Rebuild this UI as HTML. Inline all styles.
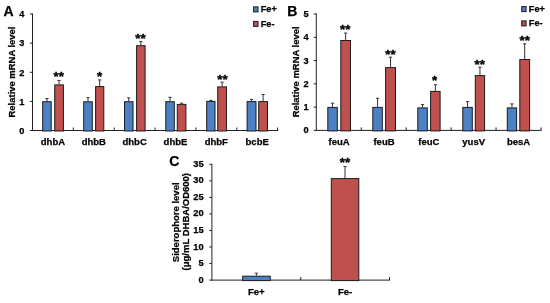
<!DOCTYPE html>
<html><head><meta charset="utf-8"><style>
html,body{margin:0;padding:0;background:#fff;}
svg{display:block;font-family:'Liberation Sans', Arial, sans-serif;}
text{fill:#000;stroke:#000;stroke-width:0.25px;}
</style></head><body>
<svg width="550" height="303" viewBox="0 0 550 303">
<rect width="550" height="303" fill="#fff"/>
<line x1="32.5" y1="13.5" x2="32.5" y2="131.0" stroke="#222" stroke-width="1"/>
<line x1="32.0" y1="130.5" x2="278.1" y2="130.5" stroke="#222" stroke-width="1"/>
<line x1="29.9" y1="130.5" x2="32.5" y2="130.5" stroke="#222" stroke-width="1"/>
<text x="24.3" y="133.75" font-size="9.2" font-weight="bold" text-anchor="end" >0</text>
<line x1="29.9" y1="101.375" x2="32.5" y2="101.375" stroke="#222" stroke-width="1"/>
<text x="24.3" y="104.625" font-size="9.2" font-weight="bold" text-anchor="end" >1</text>
<line x1="29.9" y1="72.25" x2="32.5" y2="72.25" stroke="#222" stroke-width="1"/>
<text x="24.3" y="75.5" font-size="9.2" font-weight="bold" text-anchor="end" >2</text>
<line x1="29.9" y1="43.125" x2="32.5" y2="43.125" stroke="#222" stroke-width="1"/>
<text x="24.3" y="46.375" font-size="9.2" font-weight="bold" text-anchor="end" >3</text>
<line x1="29.9" y1="14.0" x2="32.5" y2="14.0" stroke="#222" stroke-width="1"/>
<text x="24.3" y="17.25" font-size="9.2" font-weight="bold" text-anchor="end" >4</text>
<line x1="73.35" y1="127.5" x2="73.35" y2="130.5" stroke="#222" stroke-width="1"/>
<line x1="114.2" y1="127.5" x2="114.2" y2="130.5" stroke="#222" stroke-width="1"/>
<line x1="155.05" y1="127.5" x2="155.05" y2="130.5" stroke="#222" stroke-width="1"/>
<line x1="195.9" y1="127.5" x2="195.9" y2="130.5" stroke="#222" stroke-width="1"/>
<line x1="236.75" y1="127.5" x2="236.75" y2="130.5" stroke="#222" stroke-width="1"/>
<line x1="277.6" y1="127.5" x2="277.6" y2="130.5" stroke="#222" stroke-width="1"/>
<line x1="46.95" y1="101.2" x2="46.95" y2="98.5" stroke="#333" stroke-width="1"/>
<line x1="45.35" y1="98.5" x2="48.550000000000004" y2="98.5" stroke="#333" stroke-width="1"/>
<line x1="59.05" y1="84.4" x2="59.05" y2="80.4" stroke="#333" stroke-width="1"/>
<line x1="57.449999999999996" y1="80.4" x2="60.65" y2="80.4" stroke="#333" stroke-width="1"/>
<rect x="42.70" y="101.70" width="8.50" height="29.30" fill="#4D81C6" stroke="#1c1c1c" stroke-width="1"/>
<rect x="54.70" y="84.90" width="8.70" height="46.10" fill="#C0504D" stroke="#1c1c1c" stroke-width="1"/>
<line x1="88.0" y1="101.3" x2="88.0" y2="97.7" stroke="#333" stroke-width="1"/>
<line x1="86.4" y1="97.7" x2="89.6" y2="97.7" stroke="#333" stroke-width="1"/>
<line x1="99.69999999999999" y1="86.1" x2="99.69999999999999" y2="79.9" stroke="#333" stroke-width="1"/>
<line x1="98.1" y1="79.9" x2="101.29999999999998" y2="79.9" stroke="#333" stroke-width="1"/>
<rect x="83.70" y="101.80" width="8.60" height="29.20" fill="#4D81C6" stroke="#1c1c1c" stroke-width="1"/>
<rect x="95.60" y="86.60" width="8.20" height="44.40" fill="#C0504D" stroke="#1c1c1c" stroke-width="1"/>
<line x1="128.75" y1="101.2" x2="128.75" y2="97.9" stroke="#333" stroke-width="1"/>
<line x1="127.15" y1="97.9" x2="130.35" y2="97.9" stroke="#333" stroke-width="1"/>
<line x1="140.85" y1="45.2" x2="140.85" y2="41.6" stroke="#333" stroke-width="1"/>
<line x1="139.25" y1="41.6" x2="142.45" y2="41.6" stroke="#333" stroke-width="1"/>
<rect x="124.50" y="101.70" width="8.50" height="29.30" fill="#4D81C6" stroke="#1c1c1c" stroke-width="1"/>
<rect x="136.60" y="45.70" width="8.50" height="85.30" fill="#C0504D" stroke="#1c1c1c" stroke-width="1"/>
<line x1="170.05" y1="101.2" x2="170.05" y2="97.3" stroke="#333" stroke-width="1"/>
<line x1="168.45000000000002" y1="97.3" x2="171.65" y2="97.3" stroke="#333" stroke-width="1"/>
<line x1="181.60000000000002" y1="103.9" x2="181.60000000000002" y2="103.2" stroke="#333" stroke-width="1"/>
<line x1="180.00000000000003" y1="103.2" x2="183.20000000000002" y2="103.2" stroke="#333" stroke-width="1"/>
<rect x="165.80" y="101.70" width="8.50" height="29.30" fill="#4D81C6" stroke="#1c1c1c" stroke-width="1"/>
<rect x="177.30" y="104.40" width="8.60" height="26.60" fill="#C0504D" stroke="#1c1c1c" stroke-width="1"/>
<line x1="210.85" y1="100.9" x2="210.85" y2="100.4" stroke="#333" stroke-width="1"/>
<line x1="209.25" y1="100.4" x2="212.45" y2="100.4" stroke="#333" stroke-width="1"/>
<line x1="222.1" y1="86.4" x2="222.1" y2="82.2" stroke="#333" stroke-width="1"/>
<line x1="220.5" y1="82.2" x2="223.7" y2="82.2" stroke="#333" stroke-width="1"/>
<rect x="206.70" y="101.40" width="8.30" height="29.60" fill="#4D81C6" stroke="#1c1c1c" stroke-width="1"/>
<rect x="217.70" y="86.90" width="8.80" height="44.10" fill="#C0504D" stroke="#1c1c1c" stroke-width="1"/>
<line x1="251.55" y1="101.1" x2="251.55" y2="99.4" stroke="#333" stroke-width="1"/>
<line x1="249.95000000000002" y1="99.4" x2="253.15" y2="99.4" stroke="#333" stroke-width="1"/>
<line x1="263.1" y1="101.1" x2="263.1" y2="94.5" stroke="#333" stroke-width="1"/>
<line x1="261.5" y1="94.5" x2="264.70000000000005" y2="94.5" stroke="#333" stroke-width="1"/>
<rect x="247.10" y="101.60" width="8.90" height="29.40" fill="#4D81C6" stroke="#1c1c1c" stroke-width="1"/>
<rect x="258.70" y="101.60" width="8.80" height="29.40" fill="#C0504D" stroke="#1c1c1c" stroke-width="1"/>
<text x="52.925" y="144.5" font-size="9.5" font-weight="bold" text-anchor="middle" >dhbA</text>
<text x="93.775" y="144.5" font-size="9.5" font-weight="bold" text-anchor="middle" >dhbB</text>
<text x="134.625" y="144.5" font-size="9.5" font-weight="bold" text-anchor="middle" >dhbC</text>
<text x="175.475" y="144.5" font-size="9.5" font-weight="bold" text-anchor="middle" >dhbE</text>
<text x="216.32500000000002" y="144.5" font-size="9.5" font-weight="bold" text-anchor="middle" >dhbF</text>
<text x="257.175" y="144.5" font-size="9.5" font-weight="bold" text-anchor="middle" >bcbE</text>
<line x1="316.3" y1="13.5" x2="316.3" y2="130.9" stroke="#222" stroke-width="1"/>
<line x1="315.8" y1="130.4" x2="541.5" y2="130.4" stroke="#222" stroke-width="1"/>
<line x1="313.7" y1="130.4" x2="316.3" y2="130.4" stroke="#222" stroke-width="1"/>
<text x="308.6" y="133.45000000000002" font-size="9.2" font-weight="bold" text-anchor="end" >0</text>
<line x1="313.7" y1="107.12" x2="316.3" y2="107.12" stroke="#222" stroke-width="1"/>
<text x="308.6" y="110.17" font-size="9.2" font-weight="bold" text-anchor="end" >1</text>
<line x1="313.7" y1="83.84" x2="316.3" y2="83.84" stroke="#222" stroke-width="1"/>
<text x="308.6" y="86.89" font-size="9.2" font-weight="bold" text-anchor="end" >2</text>
<line x1="313.7" y1="60.56" x2="316.3" y2="60.56" stroke="#222" stroke-width="1"/>
<text x="308.6" y="63.61" font-size="9.2" font-weight="bold" text-anchor="end" >3</text>
<line x1="313.7" y1="37.28" x2="316.3" y2="37.28" stroke="#222" stroke-width="1"/>
<text x="308.6" y="40.33" font-size="9.2" font-weight="bold" text-anchor="end" >4</text>
<line x1="313.7" y1="14.0" x2="316.3" y2="14.0" stroke="#222" stroke-width="1"/>
<text x="308.6" y="17.05" font-size="9.2" font-weight="bold" text-anchor="end" >5</text>
<line x1="361.24" y1="127.4" x2="361.24" y2="130.4" stroke="#222" stroke-width="1"/>
<line x1="406.18" y1="127.4" x2="406.18" y2="130.4" stroke="#222" stroke-width="1"/>
<line x1="451.12" y1="127.4" x2="451.12" y2="130.4" stroke="#222" stroke-width="1"/>
<line x1="496.06" y1="127.4" x2="496.06" y2="130.4" stroke="#222" stroke-width="1"/>
<line x1="541.0" y1="127.4" x2="541.0" y2="130.4" stroke="#222" stroke-width="1"/>
<line x1="332.55" y1="106.9" x2="332.55" y2="103.2" stroke="#333" stroke-width="1"/>
<line x1="330.95" y1="103.2" x2="334.15000000000003" y2="103.2" stroke="#333" stroke-width="1"/>
<line x1="345.65" y1="40.0" x2="345.65" y2="33.1" stroke="#333" stroke-width="1"/>
<line x1="344.04999999999995" y1="33.1" x2="347.25" y2="33.1" stroke="#333" stroke-width="1"/>
<rect x="327.80" y="107.40" width="9.50" height="23.50" fill="#4D81C6" stroke="#1c1c1c" stroke-width="1"/>
<rect x="340.80" y="40.50" width="9.70" height="90.40" fill="#C0504D" stroke="#1c1c1c" stroke-width="1"/>
<line x1="377.55" y1="106.9" x2="377.55" y2="98.3" stroke="#333" stroke-width="1"/>
<line x1="375.95" y1="98.3" x2="379.15000000000003" y2="98.3" stroke="#333" stroke-width="1"/>
<line x1="390.55" y1="67.1" x2="390.55" y2="57.2" stroke="#333" stroke-width="1"/>
<line x1="388.95" y1="57.2" x2="392.15000000000003" y2="57.2" stroke="#333" stroke-width="1"/>
<rect x="372.80" y="107.40" width="9.50" height="23.50" fill="#4D81C6" stroke="#1c1c1c" stroke-width="1"/>
<rect x="385.60" y="67.60" width="9.90" height="63.30" fill="#C0504D" stroke="#1c1c1c" stroke-width="1"/>
<line x1="422.55" y1="107.4" x2="422.55" y2="104.6" stroke="#333" stroke-width="1"/>
<line x1="420.95" y1="104.6" x2="424.15000000000003" y2="104.6" stroke="#333" stroke-width="1"/>
<line x1="435.35" y1="90.9" x2="435.35" y2="84.8" stroke="#333" stroke-width="1"/>
<line x1="433.75" y1="84.8" x2="436.95000000000005" y2="84.8" stroke="#333" stroke-width="1"/>
<rect x="417.80" y="107.90" width="9.50" height="23.00" fill="#4D81C6" stroke="#1c1c1c" stroke-width="1"/>
<rect x="430.60" y="91.40" width="9.50" height="39.50" fill="#C0504D" stroke="#1c1c1c" stroke-width="1"/>
<line x1="467.55" y1="106.9" x2="467.55" y2="101.6" stroke="#333" stroke-width="1"/>
<line x1="465.95" y1="101.6" x2="469.15000000000003" y2="101.6" stroke="#333" stroke-width="1"/>
<line x1="479.95000000000005" y1="75.1" x2="479.95000000000005" y2="67.2" stroke="#333" stroke-width="1"/>
<line x1="478.35" y1="67.2" x2="481.55000000000007" y2="67.2" stroke="#333" stroke-width="1"/>
<rect x="462.80" y="107.40" width="9.50" height="23.50" fill="#4D81C6" stroke="#1c1c1c" stroke-width="1"/>
<rect x="475.30" y="75.60" width="9.30" height="55.30" fill="#C0504D" stroke="#1c1c1c" stroke-width="1"/>
<line x1="511.95000000000005" y1="107.4" x2="511.95000000000005" y2="103.9" stroke="#333" stroke-width="1"/>
<line x1="510.35" y1="103.9" x2="513.5500000000001" y2="103.9" stroke="#333" stroke-width="1"/>
<line x1="524.7" y1="59.0" x2="524.7" y2="43.8" stroke="#333" stroke-width="1"/>
<line x1="523.1" y1="43.8" x2="526.3000000000001" y2="43.8" stroke="#333" stroke-width="1"/>
<rect x="507.30" y="107.90" width="9.30" height="23.00" fill="#4D81C6" stroke="#1c1c1c" stroke-width="1"/>
<rect x="519.80" y="59.50" width="9.80" height="71.40" fill="#C0504D" stroke="#1c1c1c" stroke-width="1"/>
<text x="339.16999999999996" y="144.5" font-size="9.5" font-weight="bold" text-anchor="middle" >feuA</text>
<text x="384.01" y="144.5" font-size="9.5" font-weight="bold" text-anchor="middle" >feuB</text>
<text x="428.84999999999997" y="144.5" font-size="9.5" font-weight="bold" text-anchor="middle" >feuC</text>
<text x="473.69" y="144.5" font-size="9.5" font-weight="bold" text-anchor="middle" >yusV</text>
<text x="518.53" y="144.5" font-size="9.5" font-weight="bold" text-anchor="middle" >besA</text>
<line x1="211.9" y1="163.8" x2="211.9" y2="280.6" stroke="#222" stroke-width="1"/>
<line x1="211.4" y1="280.1" x2="390.0" y2="280.1" stroke="#222" stroke-width="1"/>
<line x1="209.3" y1="280.1" x2="211.9" y2="280.1" stroke="#222" stroke-width="1"/>
<text x="203.6" y="282.65000000000003" font-size="9.3" font-weight="bold" text-anchor="end" >0</text>
<line x1="209.3" y1="263.5571428571429" x2="211.9" y2="263.5571428571429" stroke="#222" stroke-width="1"/>
<text x="203.6" y="266.1071428571429" font-size="9.3" font-weight="bold" text-anchor="end" >5</text>
<line x1="209.3" y1="247.01428571428573" x2="211.9" y2="247.01428571428573" stroke="#222" stroke-width="1"/>
<text x="203.6" y="249.56428571428575" font-size="9.3" font-weight="bold" text-anchor="end" >10</text>
<line x1="209.3" y1="230.4714285714286" x2="211.9" y2="230.4714285714286" stroke="#222" stroke-width="1"/>
<text x="203.6" y="233.0214285714286" font-size="9.3" font-weight="bold" text-anchor="end" >15</text>
<line x1="209.3" y1="213.92857142857144" x2="211.9" y2="213.92857142857144" stroke="#222" stroke-width="1"/>
<text x="203.6" y="216.47857142857146" font-size="9.3" font-weight="bold" text-anchor="end" >20</text>
<line x1="209.3" y1="197.3857142857143" x2="211.9" y2="197.3857142857143" stroke="#222" stroke-width="1"/>
<text x="203.6" y="199.9357142857143" font-size="9.3" font-weight="bold" text-anchor="end" >25</text>
<line x1="209.3" y1="180.84285714285716" x2="211.9" y2="180.84285714285716" stroke="#222" stroke-width="1"/>
<text x="203.6" y="183.39285714285717" font-size="9.3" font-weight="bold" text-anchor="end" >30</text>
<line x1="209.3" y1="164.3" x2="211.9" y2="164.3" stroke="#222" stroke-width="1"/>
<text x="203.6" y="166.85000000000002" font-size="9.3" font-weight="bold" text-anchor="end" >35</text>
<line x1="300.7" y1="277.1" x2="300.7" y2="280.1" stroke="#222" stroke-width="1"/>
<line x1="389.5" y1="277.1" x2="389.5" y2="280.1" stroke="#222" stroke-width="1"/>
<line x1="256.4" y1="275.7" x2="256.4" y2="273.2" stroke="#333" stroke-width="1"/>
<line x1="254.79999999999998" y1="273.2" x2="258.0" y2="273.2" stroke="#333" stroke-width="1"/>
<line x1="345.0" y1="178.1" x2="345.0" y2="166.5" stroke="#333" stroke-width="1"/>
<line x1="343.4" y1="166.5" x2="346.6" y2="166.5" stroke="#333" stroke-width="1"/>
<rect x="242.70" y="276.20" width="27.50" height="4.40" fill="#4D81C6" stroke="#1c1c1c" stroke-width="1"/>
<rect x="331.30" y="178.60" width="27.50" height="102.00" fill="#C0504D" stroke="#1c1c1c" stroke-width="1"/>
<text x="256.3" y="294.9" font-size="9.6" font-weight="bold" text-anchor="middle" >Fe+</text>
<text x="345.1" y="294.9" font-size="9.6" font-weight="bold" text-anchor="middle" >Fe-</text>
<text x="58.65" y="80.8" font-size="13.3" font-weight="bold" text-anchor="middle" style="stroke-width:0.35px">**</text>
<text x="99.55" y="81.2" font-size="13.3" font-weight="bold" text-anchor="middle" style="stroke-width:0.35px">*</text>
<text x="140.55" y="42.9" font-size="13.3" font-weight="bold" text-anchor="middle" style="stroke-width:0.35px">**</text>
<text x="222.4" y="83.9" font-size="13.3" font-weight="bold" text-anchor="middle" style="stroke-width:0.35px">**</text>
<text x="345.3" y="34.05" font-size="13.3" font-weight="bold" text-anchor="middle" style="stroke-width:0.35px">**</text>
<text x="390.4" y="59.0" font-size="13.3" font-weight="bold" text-anchor="middle" style="stroke-width:0.35px">**</text>
<text x="434.6" y="85.2" font-size="13.3" font-weight="bold" text-anchor="middle" style="stroke-width:0.35px">*</text>
<text x="479.65" y="68.7" font-size="13.3" font-weight="bold" text-anchor="middle" style="stroke-width:0.35px">**</text>
<text x="524.65" y="44.9" font-size="13.3" font-weight="bold" text-anchor="middle" style="stroke-width:0.35px">**</text>
<text x="344.95" y="167.0" font-size="13.3" font-weight="bold" text-anchor="middle" style="stroke-width:0.35px">**</text>
<text x="3.6" y="15.7" font-size="14" font-weight="bold" text-anchor="start" >A</text>
<text x="287.2" y="15.8" font-size="14" font-weight="bold" text-anchor="start" >B</text>
<text x="169.2" y="165.6" font-size="14" font-weight="bold" text-anchor="start" >C</text>
<text x="14.9" y="72.0" font-size="9.45" font-weight="bold" text-anchor="middle" transform="rotate(-90 14.9 72.0)">Relative mRNA level</text>
<text x="298.9" y="71.9" font-size="9.45" font-weight="bold" text-anchor="middle" transform="rotate(-90 298.9 71.9)">Relative mRNA level</text>
<text x="178.9" y="222.3" font-size="9.5" font-weight="bold" text-anchor="middle" transform="rotate(-90 178.9 222.3)">Siderophore level</text>
<text x="189.4" y="221.7" font-size="9.5" font-weight="bold" text-anchor="middle" transform="rotate(-90 189.4 221.7)">(μg/mL DHBA/OD600)</text>
<rect x="253.60" y="6.90" width="4.40" height="5.00" fill="#4D81C6" stroke="#1c1c1c" stroke-width="1"/>
<rect x="253.60" y="21.40" width="4.40" height="5.00" fill="#C0504D" stroke="#1c1c1c" stroke-width="1"/>
<text x="260.7" y="12.1" font-size="9.2" font-weight="bold" text-anchor="start" >Fe+</text>
<text x="260.7" y="26.6" font-size="9.2" font-weight="bold" text-anchor="start" >Fe-</text>
<rect x="521.70" y="6.60" width="4.40" height="5.00" fill="#4D81C6" stroke="#1c1c1c" stroke-width="1"/>
<rect x="521.70" y="20.90" width="4.40" height="5.00" fill="#C0504D" stroke="#1c1c1c" stroke-width="1"/>
<text x="528.8000000000001" y="11.799999999999999" font-size="9.2" font-weight="bold" text-anchor="start" >Fe+</text>
<text x="528.8000000000001" y="26.1" font-size="9.2" font-weight="bold" text-anchor="start" >Fe-</text>
</svg>
</body></html>
